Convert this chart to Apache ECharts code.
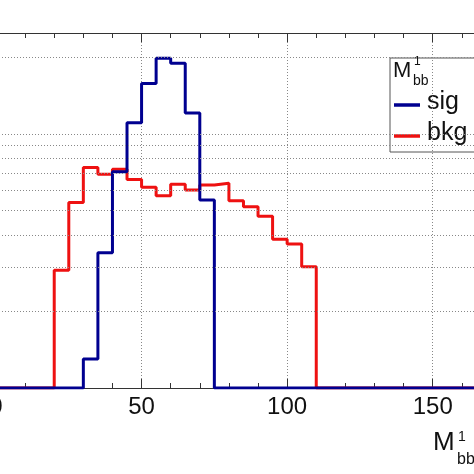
<!DOCTYPE html><html><head><meta charset="utf-8">
<script src="https://cdn.jsdelivr.net/npm/echarts@6/dist/echarts.min.js"></script>
<style>html,body{margin:0;padding:0;background:#fff}#c{width:474px;height:474px}</style></head>
<body><div id="c"></div><script>
const binEdgesStart = 0, binWidth = 5;
const sigValues = [0,0,0,0,0,0,1.30,3.41,7.1,11.07,15.8,19.9,19.0,12.1,5.5,0,0,0,0,0,0,0,0,0,0,0,0,0,0,0,0,0,0,0,0];
const bkgValues = [0,0,0,0,2.91,5.38,7.39,6.94,7.26,6.63,6.17,5.71,6.35,6.02,6.30,6.40,5.46,5.17,4.75,3.85,3.69,3.0,0,0,0,0,0,0,0,0,0,0,0,0,0];
const gridValues = [2,3,4,5,6,7,8,9,10,20];
const xTickLabels = ['0','50','100','150'];
const yMin = 1, yMax = 25;

function steps(vals){
  const d = vals.map((v,i)=>[binEdgesStart+i*binWidth, Math.max(v,yMin)]);
  d.push([binEdgesStart+vals.length*binWidth, Math.max(vals[vals.length-1],yMin)]);
  return d;
}
const dot = {color:'#888',type:[1,2],width:1};
const xCommon = {type:'value',min:0,max:175,interval:50,
  axisLine:{show:true,lineStyle:{color:'#333',width:1}},
  axisTick:{inside:true,length:9,lineStyle:{color:'#333'}},
  minorTick:{show:true,splitNumber:5,length:5,lineStyle:{color:'#333'}}};
const chart = echarts.init(document.getElementById('c'));
chart.setOption({
  animation:false,
  grid:{left:-4,right:-31.5,top:33,bottom:86,outerBoundsMode:'none',containLabel:false},
  xAxis:[Object.assign({},xCommon,{position:'bottom',
      axisLabel:{show:true,fontSize:24,color:'#111',fontFamily:'Liberation Sans',margin:7,
        formatter:v=>xTickLabels.includes(String(v))?String(v):''},
      splitLine:{show:true,lineStyle:dot}}),
    Object.assign({},xCommon,{position:'top',axisLabel:{show:false},splitLine:{show:false}})],
  yAxis:{type:'log',logBase:10,min:yMin,max:yMax,axisLine:{show:false},axisTick:{show:false},
    axisLabel:{show:false},splitLine:{show:false}},
  series:[
    {type:'line',data:[],markLine:{silent:true,symbol:'none',label:{show:false},lineStyle:dot,
      data:gridValues.map(v=>({yAxis:v}))}},
    {name:'bkg',type:'line',step:'end',showSymbol:false,data:steps(bkgValues),
      lineStyle:{color:'#ee1111',width:3},z:3},
    {name:'sig',type:'line',step:'end',showSymbol:false,data:steps(sigValues),
      lineStyle:{color:'#000090',width:3},z:4}
  ],
  graphic:[
    {type:'rect',shape:{x:390,y:58,width:100,height:94},style:{fill:'#fff',stroke:'#555',lineWidth:1}},
    {type:'text',x:393,y:60,style:{text:'M',fontSize:22,fill:'#111',fontFamily:'Liberation Sans'}},
    {type:'text',x:413,y:74,style:{text:'bb',fontSize:14,fill:'#111',fontFamily:'Liberation Sans'}},
    {type:'text',x:414,y:56,style:{text:'1',fontSize:12,fill:'#111',fontFamily:'Liberation Sans'}},
    {type:'line',shape:{x1:394,y1:105,x2:420,y2:105},style:{stroke:'#000090',lineWidth:3.5}},
    {type:'text',x:427,y:90,style:{text:'sig',fontSize:25,fill:'#111',fontFamily:'Liberation Sans'}},
    {type:'line',shape:{x1:394,y1:136,x2:420,y2:136},style:{stroke:'#ee1111',lineWidth:3.5}},
    {type:'text',x:427,y:121,style:{text:'bkg',fontSize:25,fill:'#111',fontFamily:'Liberation Sans'}},
    {type:'text',x:433,y:430,style:{text:'M',fontSize:26,fill:'#111',fontFamily:'Liberation Sans'}},
    {type:'text',x:457,y:452,style:{text:'bb',fontSize:16,fill:'#111',fontFamily:'Liberation Sans'}},
    {type:'text',x:458,y:430,style:{text:'1',fontSize:14,fill:'#111',fontFamily:'Liberation Sans'}}
  ]
});
</script></body></html>
